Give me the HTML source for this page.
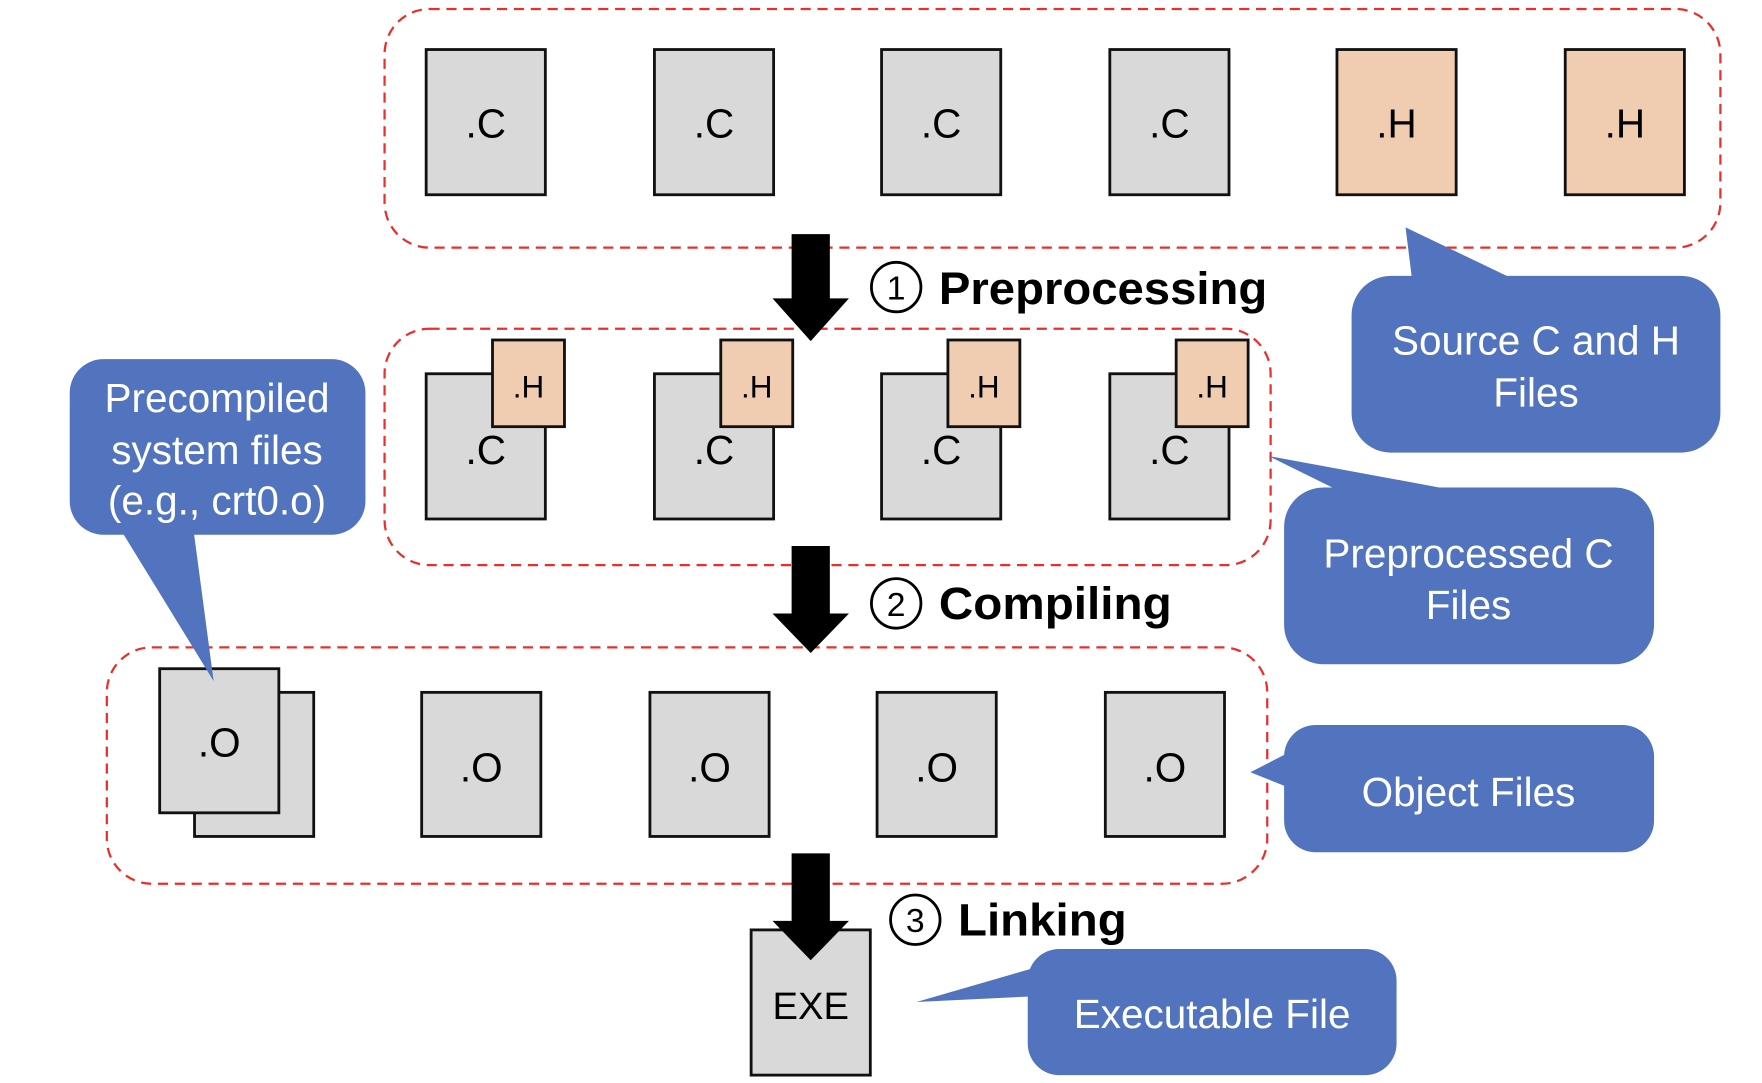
<!DOCTYPE html>
<html><head><meta charset="utf-8"><style>
html,body{margin:0;padding:0;background:#fff;width:1762px;height:1083px;overflow:hidden}
svg{display:block}
text{font-family:"Liberation Sans","DejaVu Sans",sans-serif}
</style></head><body>
<svg width="1762" height="1083" viewBox="0 0 1567 962" preserveAspectRatio="none" xmlns="http://www.w3.org/2000/svg">
<g fill="none" stroke="#e8302a" stroke-width="2" stroke-dasharray="9,6">
<rect x="342" y="8" width="1188" height="212" rx="40"/>
<rect x="342" y="292" width="788" height="210" rx="40"/>
<rect x="95" y="575" width="1032" height="210" rx="40"/>
</g>
<g stroke="#111" stroke-width="2.5">
<rect x="379" y="44" width="106" height="129" fill="#d9d9d9"/>
<rect x="582" y="44" width="106" height="129" fill="#d9d9d9"/>
<rect x="784" y="44" width="106" height="129" fill="#d9d9d9"/>
<rect x="987" y="44" width="106" height="129" fill="#d9d9d9"/>
<rect x="1189" y="44" width="106" height="129" fill="#f0cdb0"/>
<rect x="1392" y="44" width="106" height="129" fill="#f0cdb0"/>
<rect x="379" y="332" width="106" height="129" fill="#d9d9d9"/>
<rect x="438" y="302" width="64" height="77" fill="#f0cdb0"/>
<rect x="582" y="332" width="106" height="129" fill="#d9d9d9"/>
<rect x="641" y="302" width="64" height="77" fill="#f0cdb0"/>
<rect x="784" y="332" width="106" height="129" fill="#d9d9d9"/>
<rect x="843" y="302" width="64" height="77" fill="#f0cdb0"/>
<rect x="987" y="332" width="106" height="129" fill="#d9d9d9"/>
<rect x="1046" y="302" width="64" height="77" fill="#f0cdb0"/>
<rect x="173" y="615" width="106" height="128" fill="#d9d9d9"/>
<rect x="142" y="594" width="106" height="128" fill="#d9d9d9"/>
<rect x="375" y="615" width="106" height="128" fill="#d9d9d9"/>
<rect x="578" y="615" width="106" height="128" fill="#d9d9d9"/>
<rect x="780" y="615" width="106" height="128" fill="#d9d9d9"/>
<rect x="983" y="615" width="106" height="128" fill="#d9d9d9"/>
<rect x="668" y="826" width="106" height="129" fill="#d9d9d9"/>
</g>
<g font-size="36" fill="#000" text-anchor="middle">
<text x="432" y="122">.C</text><text x="635" y="122">.C</text><text x="837" y="122">.C</text><text x="1040" y="122">.C</text>
<text x="1242" y="122">.H</text><text x="1445" y="122">.H</text>
<text x="432" y="412">.C</text><text x="635" y="412">.C</text><text x="837" y="412">.C</text><text x="1040" y="412">.C</text>
<text x="195" y="672">.O</text><text x="428" y="694">.O</text><text x="631" y="694">.O</text><text x="833" y="694">.O</text><text x="1036" y="694">.O</text>
<text x="721" y="905" font-size="34">EXE</text>
</g>
<g font-size="28" fill="#000" text-anchor="middle">
<text x="470" y="353">.H</text><text x="673" y="353">.H</text><text x="875" y="353">.H</text><text x="1078" y="353">.H</text>
</g>
<g fill="#000">
<polygon points="704,208 738,208 738,265 755,265 721,303 687,265 704,265"/>
<polygon points="704,485 738,485 738,545 755,545 721,580 687,545 704,545"/>
<polygon points="704,758 738,758 738,818 755,818 721,853 687,818 704,818"/>
</g>
<g fill="none" stroke="#000" stroke-width="2.5">
<circle cx="797" cy="255" r="22"/>
<circle cx="797" cy="536" r="22"/>
<circle cx="814" cy="817" r="22"/>
</g>
<g font-size="30" fill="#000" text-anchor="middle">
<text x="797" y="266">1</text><text x="797" y="547">2</text><text x="814" y="828">3</text>
</g>
<g font-weight="bold" font-size="40" fill="#000">
<text x="835" y="270" textLength="292" lengthAdjust="spacingAndGlyphs">Preprocessing</text>
<text x="835" y="550" textLength="207" lengthAdjust="spacingAndGlyphs">Compiling</text>
<text x="852" y="831" textLength="150" lengthAdjust="spacingAndGlyphs">Linking</text>
</g>
<g fill="#5273be">
<rect x="1202" y="245" width="328" height="157" rx="35"/>
<polygon points="1250,202 1256,250 1340,250 1340,245"/>
<rect x="1142" y="433" width="329" height="157" rx="35"/>
<polygon points="1128,405 1195,438 1280,438 1280,433"/>
<rect x="1142" y="644" width="329" height="113" rx="28"/>
<polygon points="1112,686 1147,668 1147,700"/>
<rect x="914" y="843" width="328" height="112" rx="28"/>
<polygon points="815,890 919,860 919,885"/>
<rect x="62" y="319" width="263" height="156" rx="30"/>
<polygon points="190,605 107,470 172,470"/>
</g>
<g font-size="36" fill="#fff" text-anchor="middle">
<text x="1366" y="315">Source C and H</text><text x="1366" y="361">Files</text>
<text x="1306" y="504">Preprocessed C</text><text x="1306" y="550">Files</text>
<text x="1306" y="716">Object Files</text>
<text x="1078" y="913">Executable File</text>
<text x="193" y="366">Precompiled</text><text x="193" y="412">system files</text><text x="193" y="457">(e.g., crt0.o)</text>
</g>
</svg>
</body></html>
